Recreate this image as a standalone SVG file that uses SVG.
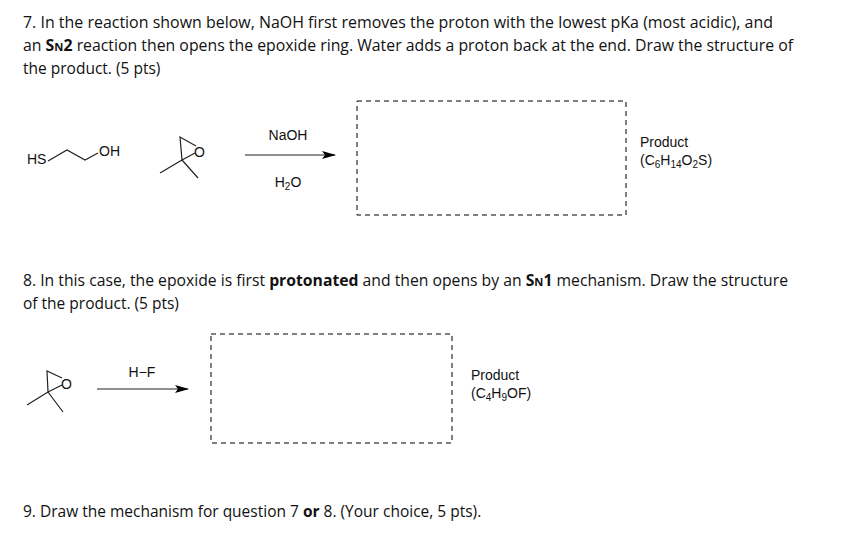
<svg xmlns="http://www.w3.org/2000/svg" width="844" height="541" viewBox="0 0 844 541">
<defs><marker id="ah" markerWidth="14" markerHeight="8" refX="13" refY="4" orient="auto" markerUnits="userSpaceOnUse"><path d="M0,0 L14,4 L0,8 L3,4 Z" fill="#000"/></marker></defs>
<style>
.q{font-family:"Open Sans","Liberation Sans",sans-serif;font-size:15.5px;fill:#111}
.c{font-family:"Liberation Sans",Arial,sans-serif;font-size:14px;fill:#111}
.b{stroke:#222;stroke-width:1.2;fill:none}
.box{stroke:#000;stroke-width:1;fill:none;stroke-dasharray:5,4}
</style>
<rect width="844" height="541" fill="#fff"/>
<text class="q" x="23" y="28" textLength="750" lengthAdjust="spacingAndGlyphs">7. In the reaction shown below, NaOH first removes the proton with the lowest pKa (most acidic), and</text>
<text class="q" x="23" y="51" textLength="770" lengthAdjust="spacingAndGlyphs">an <tspan font-weight="bold">S<tspan font-size="11">N</tspan>2</tspan> reaction then opens the epoxide ring. Water adds a proton back at the end. Draw the structure of</text>
<text class="q" x="23" y="74">the product. (5 pts)</text>
<g id="thiol"><text class="c" x="27" y="164">HS</text><path class="b" d="M48,161 L67,150 L85,160 L98,153"/><text class="c" x="99" y="156">OH</text></g>
<g id="epox1"><path class="b" d="M182,160 L180,137 L196,146 M182,160 L195,153 M182,160 L160,173 M182,160 L198,178"/><text class="c" x="194" y="157">O</text></g>
<g id="connectors"><line class="b" x1="245" y1="155" x2="335" y2="155" marker-end="url(#ah)"/><line class="b" x1="97" y1="389" x2="188" y2="389" marker-end="url(#ah)"/></g>
<text class="c" x="288" y="140" text-anchor="middle">NaOH</text>
<text class="c" x="288" y="187" text-anchor="middle">H<tspan font-size="10" dy="3">2</tspan><tspan dy="-3">O</tspan></text>
<rect id="box1" class="box" x="357" y="101" width="269" height="114"/>
<text class="c" x="640" y="147">Product</text>
<text class="c" x="640" y="165">(C<tspan font-size="10" dy="3">6</tspan><tspan dy="-3">H</tspan><tspan font-size="10" dy="3">14</tspan><tspan dy="-3">O</tspan><tspan font-size="10" dy="3">2</tspan><tspan dy="-3">S)</tspan></text>
<text class="q" x="23" y="286" textLength="765" lengthAdjust="spacingAndGlyphs">8. In this case, the epoxide is first <tspan font-weight="bold">protonated</tspan> and then opens by an <tspan font-weight="bold">S<tspan font-size="11">N</tspan>1</tspan> mechanism. Draw the structure</text>
<text class="q" x="23" y="309">of the product. (5 pts)</text>
<g id="epox2"><path class="b" d="M48,392 L47,371 L62,378 M48,392 L62,385 M48,392 L27,405 M48,392 L63,412"/><text class="c" x="61" y="389">O</text></g>
<text class="c" x="142" y="377" text-anchor="middle">H−F</text>
<rect id="box2" class="box" x="211" y="334" width="241" height="109"/>
<text class="c" x="471" y="380">Product</text>
<text class="c" x="471" y="398">(C<tspan font-size="10" dy="3">4</tspan><tspan dy="-3">H</tspan><tspan font-size="10" dy="3">9</tspan><tspan dy="-3">OF)</tspan></text>
<text class="q" x="23" y="517">9. Draw the mechanism for question 7 <tspan font-weight="bold">or</tspan> 8. (Your choice, 5 pts).</text>
</svg>
